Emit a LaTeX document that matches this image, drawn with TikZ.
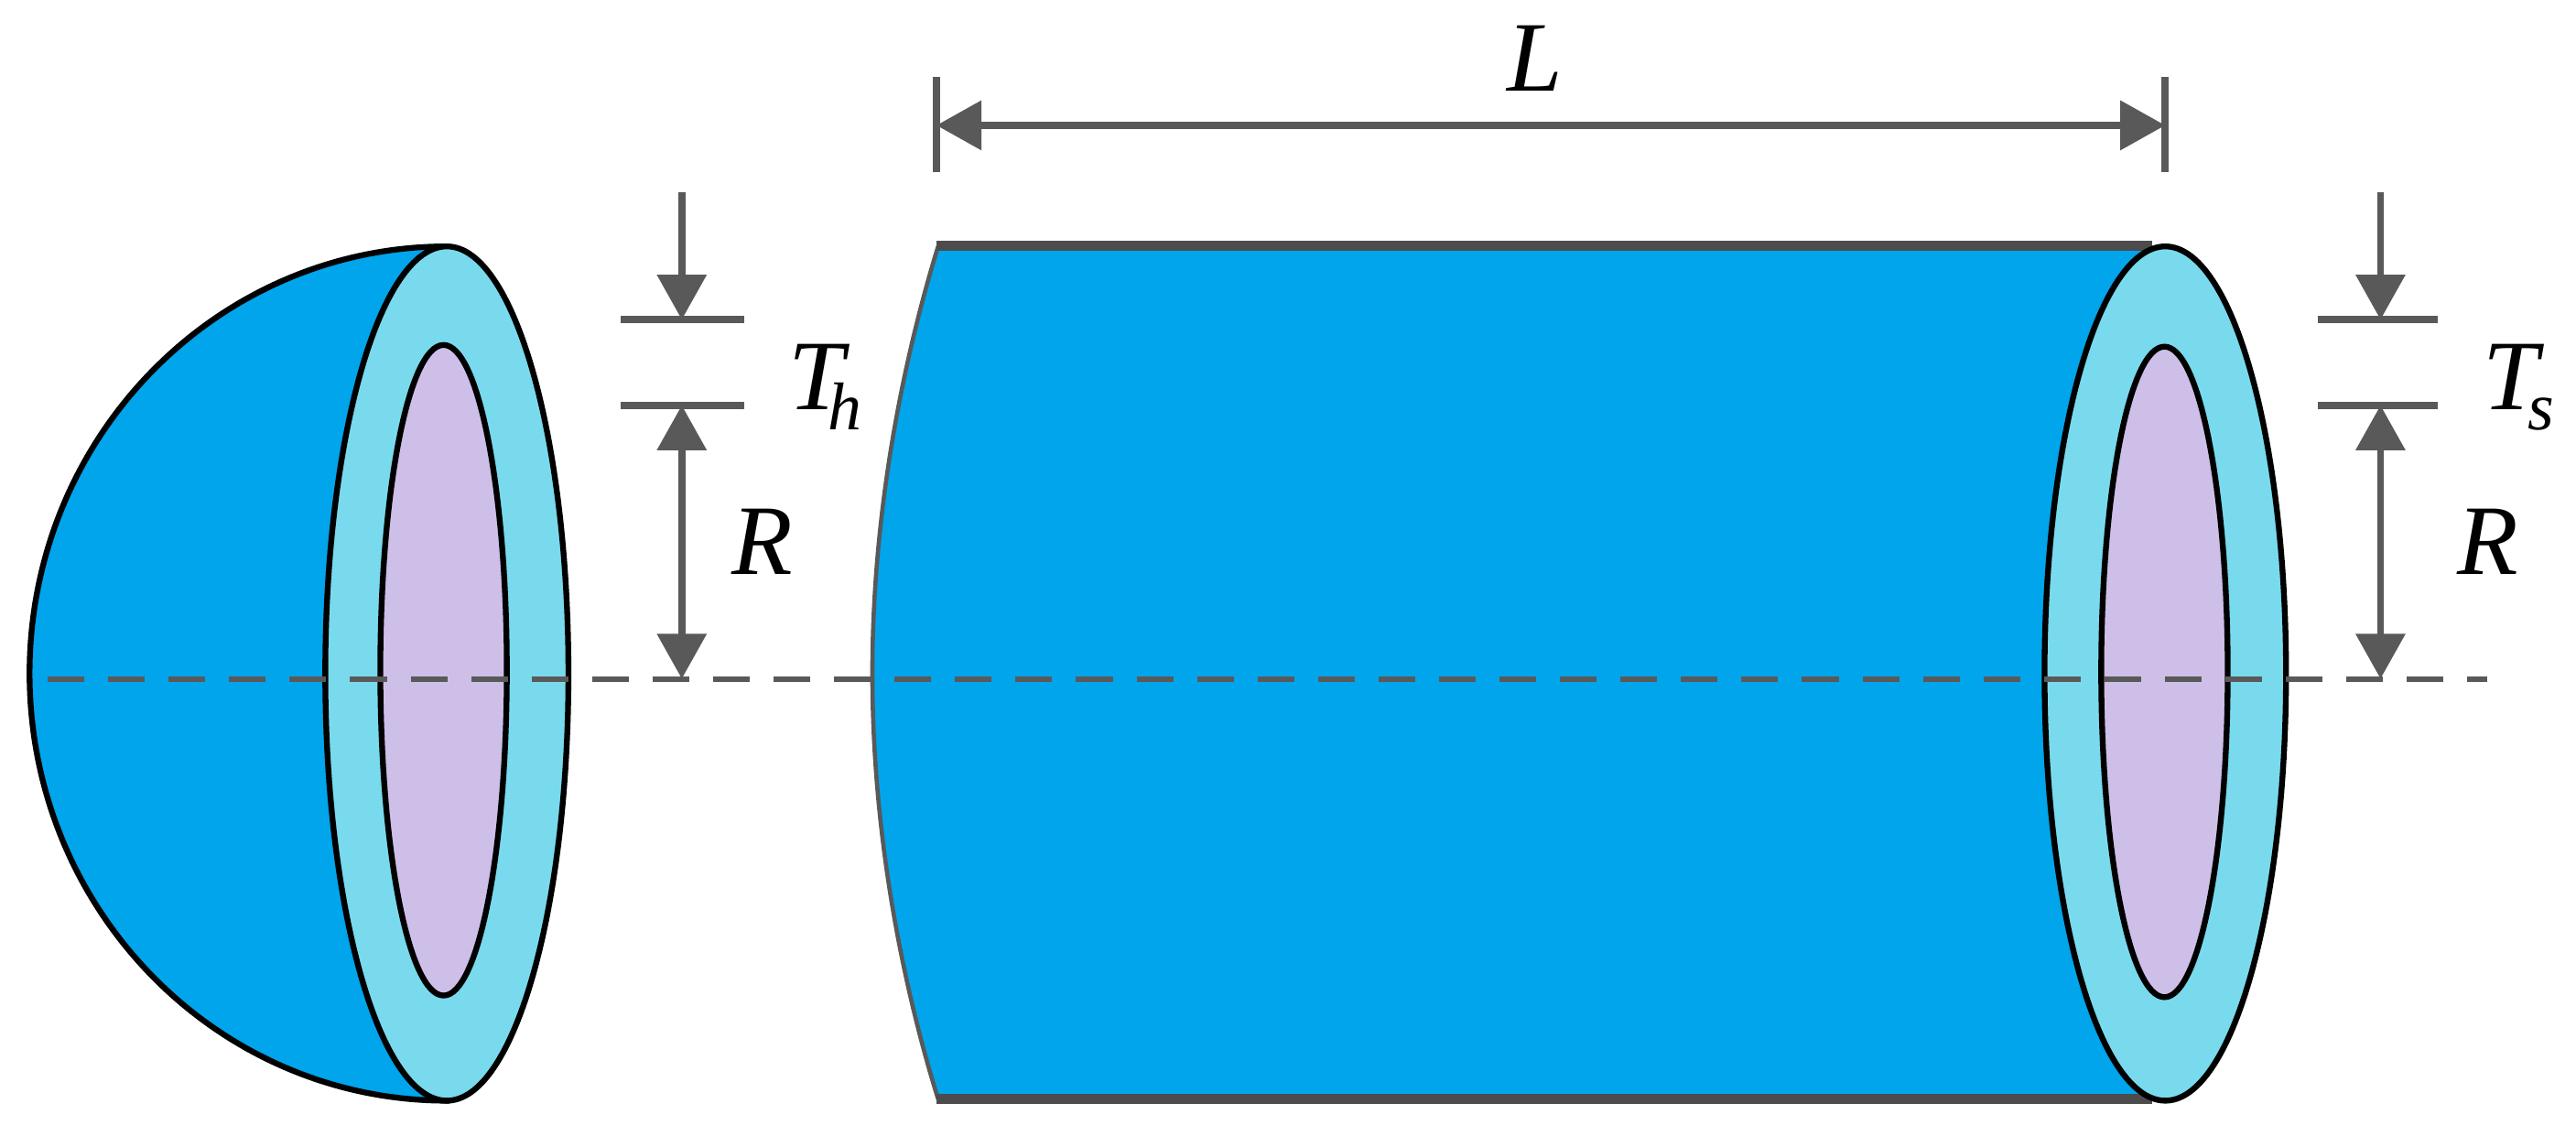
\documentclass[tikz,border=0pt]{standalone}
\usepackage{fontspec}
\setmainfont{Liberation Serif}
\usetikzlibrary{positioning,arrows.meta}
\definecolor{shellblue}{HTML}{00A5EC}
\definecolor{wallblue}{HTML}{79DAEE}
\definecolor{borelilac}{HTML}{CDBFE8}
\definecolor{dimgrey}{HTML}{595959}
\tikzset{
	dimline/.style={draw=dimgrey,line width=2.2pt},
	dimarrow/.style={dimline,-{Triangle[length=14pt,width=15pt]}},
	dimboth/.style={dimline,{Triangle[length=14pt,width=15pt]}-{Triangle[length=14pt,width=15pt]}},
	axisline/.style={draw=dimgrey,line width=1.7pt,dash pattern=on 11.4pt off 7.4pt},
	wall/.style={draw=black,line width=1.8pt},
	dimlabel/.style={font=\fontsize{31}{31}\selectfont\itshape,inner sep=0pt,anchor=base west}
}
\newcommand{\subscr}[2]{\kern#1\raisebox{-6.5pt}{\fontsize{21}{21}\selectfont #2}}
\begin{document}
\begin{tikzpicture}[x=0.01795cm,y=-0.01795cm]
	\useasboundingbox (0,0) rectangle (1568,691.4);
	% hemispherical head
	\fill[shellblue,wall] (272,150) arc[start angle=-90,end angle=-270,x radius=254,y radius=260] -- cycle;
	\filldraw[wall,fill=wallblue] (272,410) ellipse[x radius=74,y radius=260];
	\filldraw[wall,fill=borelilac] (270,408) ellipse[x radius=38.5,y radius=198];
	% cylindrical shell
	\fill[shellblue] (571,150) .. controls (545,235) and (531,325) .. (531,410) .. controls (531,495) and (545,585) .. (571,669) -- (1318,669) -- (1318,150) -- cycle;
	\draw[draw=dimgrey,line width=1.3pt] (571,150) .. controls (545,235) and (531,325) .. (531,410) .. controls (531,495) and (545,585) .. (571,669);
	\draw[draw=black!70,line width=3.1pt] (570,149.6) -- (1310,149.6);
	\draw[draw=black!70,line width=3.1pt] (570,669) -- (1310,669);
	\filldraw[wall,fill=wallblue] (1318,410) ellipse[x radius=73.5,y radius=260];
	\filldraw[wall,fill=borelilac] (1317.5,409) ellipse[x radius=38.5,y radius=198];
	% axis
	\coordinate (axisL) at (29,413.2);
	\coordinate (axisR) at (1514,413.2);
	\draw[axisline] (axisL) -- (axisR);
	% length
	\coordinate (lenL) at (570,76.3);
	\coordinate (lenR) at (1318,76.3);
	\draw[dimline] (570,47) -- (570,105);
	\draw[dimline] (1318,47) -- (1318,105);
	\draw[dimboth] (lenL) -- (lenR);
	\node[dimlabel] (lenlabel) at (917.2,55.7) {L};
	% head thickness and radius
	\coordinate (headtop) at (415,117);
	\coordinate (headouter) at (415,194.6);
	\coordinate (headinner) at (415,246.7);
	\coordinate (headaxis) at (415,413.2);
	\draw[dimline] (378,194.6) -- (452.9,194.6);
	\draw[dimline] (378,246.7) -- (452.9,246.7);
	\draw[dimarrow] (headtop) -- (headouter);
	\draw[dimboth] (headinner) -- (headaxis);
	\node[dimlabel] (thlabel) at (479.8,249.1) {T\subscr{-5pt}{h}};
	\node[dimlabel] (rhlabel) at (445.2,349.4) {R};
	% shell thickness and radius
	\coordinate (shelltop) at (1449,117);
	\coordinate (shellouter) at (1449,194.6);
	\coordinate (shellinner) at (1449,246.7);
	\coordinate (shellaxis) at (1449,413.2);
	\draw[dimline] (1411,194.6) -- (1484,194.6);
	\draw[dimline] (1411,246.7) -- (1484,246.7);
	\draw[dimarrow] (shelltop) -- (shellouter);
	\draw[dimboth] (shellinner) -- (shellaxis);
	\node[dimlabel] (tslabel) at (1511,249.1) {T\subscr{-3.3pt}{s}};
	\node[dimlabel] (rslabel) at (1495.6,349.4) {R};
\end{tikzpicture}
\end{document}
